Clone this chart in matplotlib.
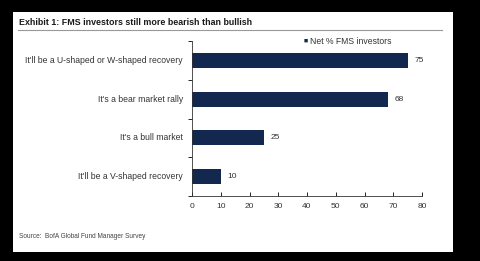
import matplotlib.pyplot as plt
from matplotlib.patches import Rectangle
from matplotlib.lines import Line2D

categorias = ["It'll be a U-shaped or W-shaped recovery", "It's a bear market rally",
              "It's a bull market", "It'll be a V-shaped recovery"]
valores = [75, 68, 25, 10]
serie = "Net % FMS investors"
titulo = "Exhibit 1: FMS investors still more bearish than bullish"
fonte = "Source:  BofA Global Fund Manager Survey"
xticks = [0, 10, 20, 30, 40, 50, 60, 70, 80]

plt.rcParams['font.family'] = ['Liberation Sans', 'DejaVu Sans']
cor_barra = '#13284f'
cor_texto = '#333333'

fig = plt.figure(figsize=(4.8, 2.61), dpi=100, facecolor='black')

# painel branco
fig.patches.append(Rectangle((13 / 480, 1 - 251.5 / 261), (452.5 - 13) / 480, (251.5 - 11.5) / 261,
                             transform=fig.transFigure, facecolor='white', edgecolor='none', zorder=-5))
# titulo e linha
fig.text(19 / 480, 1 - 22.5 / 261, titulo, fontsize=6.4, fontweight='bold', color='#1a1a1a',
         va='center', ha='left')
fig.add_artist(Line2D([18 / 480, 442 / 480], [1 - 29.5 / 261, 1 - 29.5 / 261], transform=fig.transFigure,
                      color='#999999', lw=0.8))
fig.text(19 / 480, 1 - 237 / 261, fonte, fontsize=4.7, color='#444444', va='center', ha='left')

ax = fig.add_axes([192 / 480, 1 - 196 / 261, 230 / 480, 155 / 261])
ax.set_zorder(2)
ax.patch.set_alpha(0)
pos = list(range(len(categorias)))
ax.barh(pos, valores, height=0.39, color=cor_barra)
for p, v in zip(pos, valores):
    ax.text(v + 2.4, p, str(v), va='center', ha='left', fontsize=6, color=cor_texto)

ax.set_xlim(0, 80)
ax.set_ylim(3.5, -0.5)
ax.set_xticks(xticks)
ax.tick_params(axis='x', direction='in', length=3, width=0.6, labelsize=6, labelcolor=cor_texto, pad=5)
ax.set_yticks([-0.5, 0.5, 1.5, 2.5, 3.5])
ax.set_yticklabels([])
ax.tick_params(axis='y', direction='out', length=3, width=0.6)
for p, c in zip(pos, categorias):
    ax.text(-0.04, p, c, transform=ax.get_yaxis_transform(), ha='right', va='center',
            fontsize=6.2, color=cor_texto)

for s in ['top', 'right']:
    ax.spines[s].set_visible(False)
for s in ['left', 'bottom']:
    ax.spines[s].set_linewidth(0.6)
    ax.spines[s].set_color('#333333')

# legenda
fig.text(304 / 480, 1 - 41 / 261, "\u25a0", fontsize=5, color=cor_barra, va='center', ha='left')
fig.text(310.5 / 480, 1 - 41 / 261, serie, fontsize=6.2, color=cor_texto, va='center', ha='left')

fig.savefig('out.png', dpi=100, facecolor='black')
